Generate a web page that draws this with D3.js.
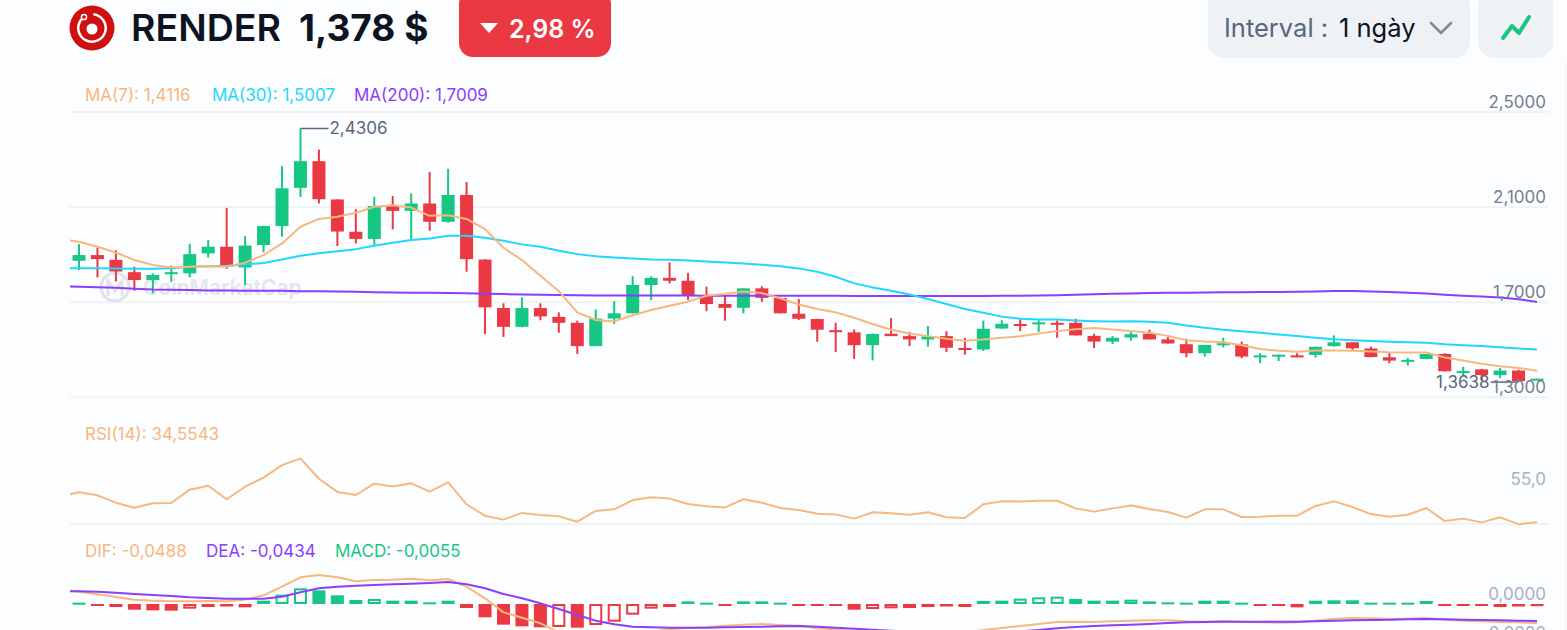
<!DOCTYPE html>
<html>
<head>
<meta charset="utf-8">
<script src="https://cdn.jsdelivr.net/npm/d3@7"></script>
<style>
  html, body { margin: 0; padding: 0; background: #fcfdfe; overflow: hidden; }
  text { font-family: Inter, "Noto Sans", sans-serif; }
</style>
</head>
<body>
<div id="chart"></div>
<script>
const width = 1567;
const height = 630;

// one candle per day
const opens = [1.874,1.898,1.878,1.826,1.793,1.821,1.821,1.905,1.933,1.846,1.940,2.020,2.181,2.293,2.132,1.996,1.966,2.104,2.084,2.115,2.038,2.151,1.879,1.675,1.596,1.675,1.638,1.613,1.515,1.631,1.653,1.772,1.802,1.790,1.730,1.692,1.676,1.758,1.717,1.651,1.629,1.582,1.573,1.519,1.567,1.557,1.543,1.557,1.507,1.501,1.589,1.608,1.609,1.613,1.613,1.558,1.534,1.551,1.567,1.543,1.523,1.485,1.522,1.522,1.472,1.474,1.476,1.478,1.515,1.531,1.505,1.468,1.454,1.461,1.482,1.407,1.417,1.393,1.412,1.374];
const highs = [1.944,1.930,1.919,1.849,1.821,1.854,1.945,1.961,2.097,1.978,2.022,2.272,2.4306,2.342,2.133,2.091,2.143,2.146,2.157,2.247,2.261,2.205,1.881,1.695,1.720,1.695,1.657,1.622,1.669,1.704,1.809,1.809,1.867,1.823,1.765,1.727,1.758,1.767,1.718,1.713,1.630,1.613,1.585,1.568,1.633,1.575,1.599,1.578,1.550,1.622,1.624,1.627,1.624,1.623,1.630,1.567,1.557,1.574,1.584,1.553,1.546,1.520,1.550,1.534,1.485,1.479,1.485,1.513,1.560,1.531,1.513,1.485,1.465,1.482,1.485,1.428,1.419,1.423,1.416,1.378];
const lows = [1.835,1.804,1.787,1.748,1.737,1.786,1.804,1.888,1.840,1.772,1.910,1.975,2.143,2.115,1.936,1.947,1.937,2.006,1.961,2.000,2.034,1.828,1.566,1.554,1.594,1.624,1.571,1.482,1.515,1.608,1.653,1.709,1.779,1.709,1.662,1.622,1.653,1.702,1.653,1.625,1.533,1.490,1.461,1.455,1.557,1.515,1.512,1.490,1.479,1.494,1.588,1.578,1.575,1.550,1.560,1.507,1.524,1.538,1.543,1.526,1.468,1.471,1.509,1.464,1.443,1.452,1.468,1.467,1.513,1.496,1.468,1.443,1.434,1.459,1.409,1.389,1.369,1.381,1.3638,1.374];
const closes = [1.898,1.881,1.829,1.793,1.814,1.826,1.902,1.933,1.849,1.938,2.020,2.179,2.293,2.133,1.997,1.966,2.104,2.084,2.115,2.038,2.151,1.881,1.678,1.596,1.675,1.640,1.613,1.515,1.631,1.653,1.772,1.802,1.790,1.730,1.692,1.676,1.758,1.718,1.653,1.630,1.584,1.574,1.519,1.566,1.557,1.543,1.556,1.508,1.501,1.588,1.609,1.602,1.615,1.609,1.560,1.534,1.550,1.565,1.543,1.526,1.485,1.520,1.527,1.471,1.476,1.479,1.469,1.512,1.531,1.506,1.469,1.454,1.457,1.482,1.409,1.410,1.393,1.412,1.368,1.378];

// the lines carry one extra point on the left, it is cut by the pane edge
const ma7 = [1.965,1.954,1.933,1.909,1.877,1.856,1.846,1.849,1.851,1.849,1.866,1.898,1.947,2.017,2.050,2.059,2.076,2.101,2.108,2.098,2.063,2.066,2.050,2.007,1.929,1.877,1.811,1.746,1.657,1.625,1.619,1.645,1.667,1.685,1.702,1.727,1.734,1.745,1.738,1.716,1.690,1.671,1.657,1.634,1.608,1.584,1.568,1.557,1.546,1.538,1.543,1.550,1.556,1.568,1.578,1.586,1.591,1.585,1.579,1.571,1.558,1.540,1.534,1.531,1.519,1.503,1.495,1.491,1.496,1.496,1.495,1.492,1.489,1.488,1.488,1.467,1.454,1.441,1.430,1.423,1.4116];
const ma30 = [1.843,1.843,1.843,1.842,1.840,1.840,1.843,1.849,1.851,1.853,1.858,1.865,1.879,1.895,1.906,1.914,1.923,1.937,1.950,1.961,1.968,1.979,1.979,1.971,1.958,1.943,1.933,1.916,1.902,1.893,1.888,1.884,1.879,1.878,1.875,1.871,1.867,1.863,1.857,1.851,1.842,1.828,1.807,1.779,1.762,1.748,1.732,1.713,1.692,1.671,1.655,1.639,1.630,1.627,1.627,1.623,1.620,1.618,1.620,1.617,1.613,1.602,1.592,1.584,1.577,1.571,1.564,1.557,1.550,1.544,1.540,1.536,1.533,1.531,1.529,1.523,1.519,1.515,1.510,1.505,1.5007];
const ma200 = [1.767,1.765,1.763,1.760,1.756,1.753,1.752,1.751,1.749,1.749,1.748,1.748,1.748,1.746,1.746,1.745,1.744,1.742,1.741,1.739,1.739,1.738,1.737,1.735,1.734,1.732,1.731,1.730,1.729,1.728,1.728,1.728,1.728,1.728,1.728,1.727,1.727,1.727,1.727,1.727,1.727,1.727,1.727,1.726,1.726,1.726,1.726,1.726,1.726,1.726,1.726,1.727,1.727,1.728,1.729,1.731,1.733,1.735,1.736,1.738,1.739,1.740,1.741,1.742,1.742,1.743,1.743,1.744,1.745,1.747,1.747,1.745,1.743,1.739,1.736,1.731,1.727,1.724,1.719,1.712,1.7009];
const rsi = [50.5,52.95,51.1,46.6,43.5,46.2,46.4,54.6,57.0,48.7,56.4,62.0,69.7,73.8,61.3,53.2,51.3,58.3,56.6,58.5,53.4,59.1,45.6,38.6,36.2,40.3,39.0,38.2,34.9,41.5,42.5,48.2,49.9,49.1,45.8,44.4,43.7,48.7,46.6,43.3,42.1,39.8,39.4,36.8,40.7,40.1,39.2,40.7,37.6,37.2,45.6,47.4,47.3,47.8,47.8,43.1,41.1,43.1,44.8,42.7,40.9,37.4,42.5,42.5,37.8,38.0,38.6,38.6,44.6,47.4,43.9,39.6,38.0,39.2,43.3,35.3,36.8,34.5,37.6,33.4,34.55];
const dif = [0.0366,0.0315,0.0247,0.0179,0.0111,0.0085,0.0068,0.0068,0.0077,0.0068,0.0111,0.0221,0.0442,0.0680,0.0740,0.0680,0.0578,0.0612,0.0621,0.0646,0.0604,0.0638,0.0442,0.0145,-0.0213,-0.0349,-0.0493,-0.0723,-0.0833,-0.0918,-0.0893,-0.0791,-0.0706,-0.0646,-0.0612,-0.0595,-0.0553,-0.0527,-0.0510,-0.0536,-0.0553,-0.0621,-0.0646,-0.0706,-0.0765,-0.0808,-0.0825,-0.0808,-0.0774,-0.0731,-0.0663,-0.0612,-0.0561,-0.0510,-0.0459,-0.0451,-0.0459,-0.0442,-0.0425,-0.0417,-0.0417,-0.0442,-0.0451,-0.0434,-0.0451,-0.0468,-0.0476,-0.0468,-0.0425,-0.0374,-0.0357,-0.0366,-0.0383,-0.0374,-0.0357,-0.0400,-0.0425,-0.0442,-0.0459,-0.0468,-0.0488];
const dea = [0.0332,0.0323,0.0315,0.0289,0.0255,0.0230,0.0204,0.0170,0.0153,0.0136,0.0132,0.0136,0.0187,0.0298,0.0400,0.0442,0.0468,0.0485,0.0502,0.0519,0.0536,0.0561,0.0502,0.0400,0.0255,0.0145,0.0017,-0.0128,-0.0281,-0.0425,-0.0519,-0.0578,-0.0595,-0.0604,-0.0604,-0.0604,-0.0595,-0.0587,-0.0578,-0.0570,-0.0561,-0.0578,-0.0604,-0.0629,-0.0655,-0.0680,-0.0706,-0.0723,-0.0740,-0.0748,-0.0740,-0.0723,-0.0697,-0.0663,-0.0621,-0.0587,-0.0561,-0.0544,-0.0527,-0.0510,-0.0485,-0.0468,-0.0459,-0.0451,-0.0451,-0.0451,-0.0451,-0.0451,-0.0442,-0.0425,-0.0417,-0.0408,-0.0400,-0.0391,-0.0383,-0.0391,-0.0400,-0.0408,-0.0417,-0.0425,-0.0434];
const macd = [0.0034,-0.0034,-0.0077,-0.0145,-0.0162,-0.0170,-0.0119,-0.0077,-0.0043,-0.0085,0.0085,0.0238,0.0400,0.0349,0.0221,0.0102,0.0128,0.0085,0.0085,0.0043,0.0085,-0.0102,-0.0340,-0.0527,-0.0570,-0.0595,-0.0587,-0.0604,-0.0536,-0.0451,-0.0272,-0.0119,-0.0077,0.0068,0.0034,-0.0034,0.0068,0.0068,0.0034,-0.0034,-0.0034,-0.0051,-0.0145,-0.0128,-0.0111,-0.0102,-0.0077,-0.0034,-0.0077,0.0077,0.0085,0.0136,0.0170,0.0187,0.0128,0.0085,0.0085,0.0111,0.0068,0.0043,0.0034,0.0085,0.0085,0.0034,-0.0034,-0.0034,-0.0085,0.0085,0.0094,0.0094,0.0034,0.0034,0.0034,0.0077,-0.0034,-0.0034,-0.0034,-0.0077,-0.0034,-0.0055];

const price_ticks = [2.5, 2.1, 1.7, 1.3];
const rsi_ticks = [55];
const macd_ticks = [0, -0.1];
const macd_tick_labels = ['0,0000', '0,0020'];

const ma_legend = [
  { text: 'MA(7): 1,4116', color: '#f6b87e', x: 85 },
  { text: 'MA(30): 1,5007', color: '#1fd8fb', x: 212 },
  { text: 'MA(200): 1,7009', color: '#8a3ffc', x: 354 },
];
const macd_legend = [
  { text: 'DIF: -0,0488', color: '#f6b87e', x: 85 },
  { text: 'DEA: -0,0434', color: '#8a3ffc', x: 206 },
  { text: 'MACD: -0,0055', color: '#16c784', x: 335 },
];

const green = '#16c784';
const red = '#ea3943';
const candle_width = 13;
const left = 70;
const right = 1548;

const comma = d3.formatLocale({ decimal: ',', thousands: '.', grouping: [3], currency: ['', ''] });

const x = d3.scaleLinear().domain([0, 79]).range([79, 1537]);
const y_price = d3.scaleLinear().domain([1.3, 2.5]).range([397.2, 112]);
const y_rsi = d3.scaleLinear().domain([33.5, 55]).range([524, 489]);
const y_macd = d3.scaleLinear().domain([-0.1, 0]).range([643.2, 604]);

const svg = d3.select('#chart')
  .append('svg')
    .attr('width', width)
    .attr('height', height)
    .style('display', 'block');

svg.append('defs').append('clipPath')
    .attr('id', 'pane')
  .append('rect')
    .attr('x', left)
    .attr('y', 0)
    .attr('width', right - left)
    .attr('height', height);

let draw_header = () => {
  const head = svg.append('g');
  head.append('circle').attr('cx', 92).attr('cy', 28).attr('r', 22.5).attr('fill', '#cf1010');
  head.append('path')
      .attr('d', d3.arc().innerRadius(12.5).outerRadius(15).startAngle(0.1).endAngle(5.4)())
      .attr('transform', 'translate(92,28)')
      .attr('fill', '#fff');
  head.append('circle').attr('cx', 92).attr('cy', 29).attr('r', 5.5).attr('fill', '#fff');
  head.append('circle').attr('cx', 84).attr('cy', 17).attr('r', 2.6).attr('fill', '#cf1010').attr('stroke', '#fff').attr('stroke-width', 1.5);
  head.append('text').attr('x', 131).attr('y', 41).text('RENDER')
      .attr('font-size', 37.5).attr('font-weight', 600).attr('fill', '#0d1421');
  head.append('text').attr('x', 299).attr('y', 41).text('1,378 $')
      .attr('font-size', 37).attr('font-weight', 700).attr('fill', '#0d1421');

  head.append('rect').attr('x', 459).attr('y', -10).attr('width', 152).attr('height', 67).attr('rx', 14).attr('fill', red);
  head.append('path').attr('d', 'M480,23 L498,23 L489,33 Z').attr('fill', '#fff');
  head.append('text').attr('x', 509).attr('y', 38).text('2,98 %')
      .attr('font-size', 25).attr('font-weight', 600).attr('fill', '#fff');

  head.append('rect').attr('x', 1208).attr('y', -10).attr('width', 262).attr('height', 68).attr('rx', 16).attr('fill', '#eff2f5');
  head.append('text').attr('x', 1224).attr('y', 37).text('Interval :')
      .attr('font-size', 25.5).attr('fill', '#58667e');
  head.append('text').attr('x', 1339).attr('y', 37).text('1 ngày')
      .attr('font-size', 25.5).attr('fill', '#0d1421');
  head.append('path').attr('d', 'M1431,23 L1441,33 L1451,23')
      .attr('fill', 'none').attr('stroke', '#808a9d').attr('stroke-width', 2.6).attr('stroke-linecap', 'round').attr('stroke-linejoin', 'round');

  head.append('rect').attr('x', 1478).attr('y', -10).attr('width', 75).attr('height', 68).attr('rx', 16).attr('fill', '#eff2f5');
  head.append('path').attr('d', 'M1503,38 L1512,26 L1519,33 L1529,17')
      .attr('fill', 'none').attr('stroke', green).attr('stroke-width', 4).attr('stroke-linecap', 'round').attr('stroke-linejoin', 'round');
};

let draw_grid = () => {
  const lines = price_ticks.map(d => y_price(d)).concat([y_rsi(33.5)]);
  svg.append('g').selectAll('line')
      .data(lines)
    .join('line')
      .attr('x1', left)
      .attr('x2', right)
      .attr('y1', d => d)
      .attr('y2', d => d)
      .attr('stroke', '#f0f2f5')
      .attr('stroke-width', 2);
  // faint edge of the card on the right
  svg.append('line')
      .attr('x1', 1565.5).attr('x2', 1565.5)
      .attr('y1', 60).attr('y2', height)
      .attr('stroke', '#f2f4f7');
};

let draw_watermark = () => {
  const mark = svg.append('g');
  mark.append('circle').attr('cx', 115).attr('cy', 287).attr('r', 14)
      .attr('fill', 'none').attr('stroke', '#e0e4ea').attr('stroke-width', 3);
  mark.append('path').attr('d', 'M108,296 L108,281 L115,291 L122,281 L122,296')
      .attr('fill', 'none').attr('stroke', '#e0e4ea').attr('stroke-width', 3);
  mark.append('text').attr('x', 143).attr('y', 295).text('CoinMarketCap')
      .attr('font-size', 21).attr('font-weight', 600).attr('fill', '#e3e6ec');
};

let draw_candles = () => {
  const candles = d3.range(opens.length).map(i => ({ i, o: opens[i], h: highs[i], l: lows[i], c: closes[i] }));
  const g = svg.append('g').selectAll('g')
      .data(candles)
    .join('g')
      .attr('fill', d => d.c >= d.o ? green : red);
  g.append('rect')
      .attr('x', d => x(d.i) - 1)
      .attr('width', 2)
      .attr('y', d => y_price(d.h))
      .attr('height', d => y_price(d.l) - y_price(d.h));
  g.append('rect')
      .attr('x', d => x(d.i) - candle_width / 2)
      .attr('width', candle_width)
      .attr('y', d => y_price(Math.max(d.o, d.c)))
      .attr('height', d => Math.max(2, Math.abs(y_price(d.o) - y_price(d.c))));
};

let draw_line = (values, y_scale, color, stroke_width) => {
  const line = d3.line()
    .x((d, i) => x(i - 1))
    .y(d => y_scale(d));
  svg.append('path')
      .datum(values)
      .attr('clip-path', 'url(#pane)')
      .attr('d', line)
      .attr('fill', 'none')
      .attr('stroke', color)
      .attr('stroke-width', stroke_width)
      .attr('stroke-linejoin', 'round');
};

let draw_extreme = (i, value, dir) => {
  const px = x(i);
  const py = y_price(value);
  const g = svg.append('g');
  g.append('line')
      .attr('x1', px).attr('x2', px + dir * 28)
      .attr('y1', py).attr('y2', py)
      .attr('stroke', '#58667e').attr('stroke-width', 1.5);
  g.append('text')
      .attr('x', px + dir * 29)
      .attr('y', py + 6)
      .attr('text-anchor', dir > 0 ? 'start' : 'end')
      .attr('font-size', 17)
      .attr('fill', '#58667e')
      .text(comma.format('.4f')(value));
};

let draw_macd_bars = () => {
  const stroke = 2;
  const bars = macd.map((d, i) => ({ i, v: d, hollow: i > 0 && d > macd[i - 1] }));
  svg.append('g').selectAll('rect')
      .data(bars)
    .join('rect')
      .attr('x', d => x(d.i) - candle_width / 2 + (d.hollow ? stroke / 2 : 0))
      .attr('width', d => candle_width - (d.hollow ? stroke : 0))
      .attr('y', d => y_macd(Math.max(0, d.v)) + (d.hollow ? stroke / 2 : 0))
      .attr('height', d => d.hollow
        ? Math.max(0.5, Math.abs(y_macd(d.v) - y_macd(0)) - stroke)
        : Math.max(2, Math.abs(y_macd(d.v) - y_macd(0))))
      .attr('fill', d => d.hollow ? 'none' : (d.v >= 0 ? green : red))
      .attr('stroke', d => d.hollow ? (d.v >= 0 ? green : red) : 'none')
      .attr('stroke-width', stroke);
};

let draw_axis = (scale, ticks, format, color) => {
  const axis = d3.axisLeft(scale).tickValues(ticks).tickSize(0).tickFormat(format);
  const g = svg.append('g')
      .attr('transform', 'translate(' + 1546 + ',0)')
      .call(axis);
  g.select('.domain').remove();
  g.selectAll('text')
      .attr('x', 0)
      .attr('dy', -5)
      .attr('text-anchor', 'end')
      .attr('font-size', 17)
      .attr('font-family', 'Inter')
      .attr('fill', color);
};

let draw_legend = (items, y) => {
  svg.append('g').selectAll('text')
      .data(items)
    .join('text')
      .attr('x', d => d.x)
      .attr('y', y)
      .attr('font-size', 17)
      .attr('fill', d => d.color)
      .text(d => d.text);
};

draw_header();
draw_grid();
draw_watermark();
draw_legend(ma_legend, 101);
draw_candles();
draw_line(ma200, y_price, '#8a3ffc', 2);
draw_line(ma30, y_price, '#1fd8fb', 2);
draw_line(ma7, y_price, '#f6b87e', 2);
draw_extreme(12, 2.4306, 1);
draw_extreme(78, 1.3638, -1);
draw_axis(y_price, price_ticks, comma.format('.4f'), '#727f94');

draw_legend([{ text: 'RSI(14): 34,5543', color: '#f6b87e', x: 85 }], 440);
draw_line(rsi, y_rsi, '#f6b87e', 2);
draw_axis(y_rsi, rsi_ticks, comma.format('.1f'), '#a6b0c3');

draw_legend(macd_legend, 557);
draw_macd_bars();
draw_line(dif, y_macd, '#f6b87e', 2);
draw_line(dea, y_macd, '#8a3ffc', 2);
draw_axis(y_macd, macd_ticks, (d, i) => macd_tick_labels[i], '#a6b0c3');
</script>
</body>
</html>
